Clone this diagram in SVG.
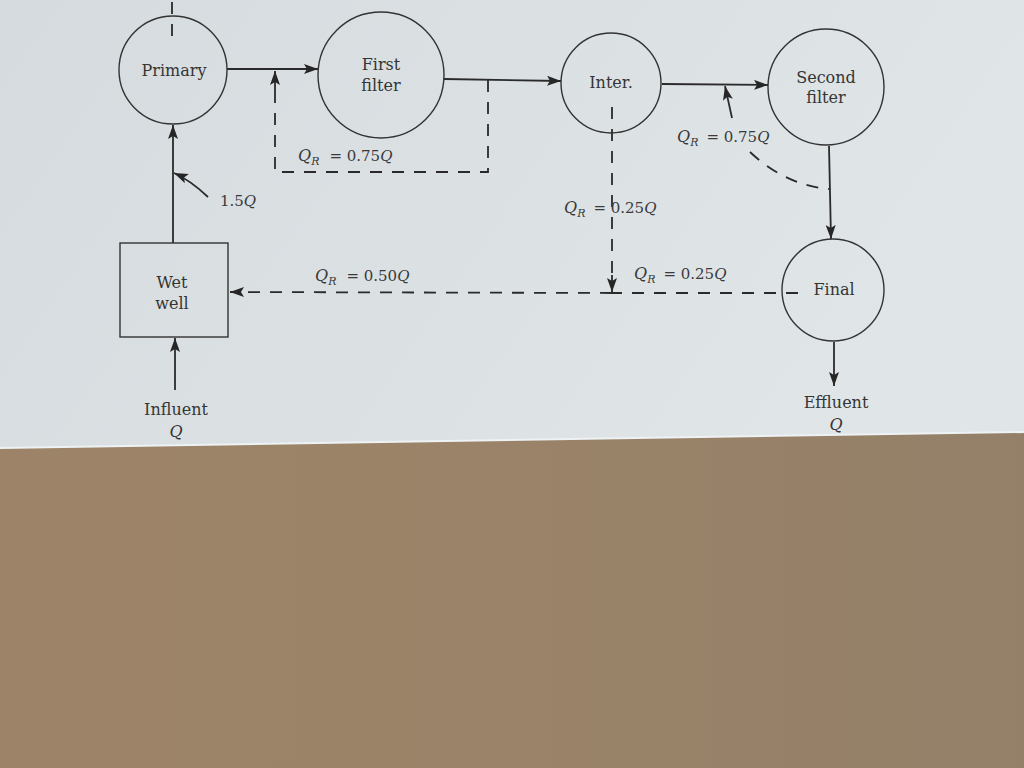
<svg xmlns="http://www.w3.org/2000/svg" width="1024" height="768" viewBox="0 0 1024 768">
<defs>
<linearGradient id="page" x1="0" y1="0" x2="1" y2="0.3">
<stop offset="0" stop-color="#d5dbde"/>
<stop offset="0.6" stop-color="#dce2e4"/>
<stop offset="1" stop-color="#e0e5e7"/>
</linearGradient>
<linearGradient id="board" x1="0" y1="0" x2="1" y2="0">
<stop offset="0" stop-color="#9d8468"/>
<stop offset="0.5" stop-color="#9a8368"/>
<stop offset="1" stop-color="#948069"/>
</linearGradient>
<marker id="ah" viewBox="0 0 14 10" refX="14" refY="5" markerWidth="14" markerHeight="10" markerUnits="userSpaceOnUse" orient="auto">
<path d="M0,0 L14,5 L0,10 L3,5 Z" fill="#262626"/>
</marker>
<style>
.node{fill:none;stroke:#333;stroke-width:1.4}
.ln{fill:none;stroke:#2a2a2a;stroke-width:1.8}
.dash{fill:none;stroke:#2a2a2a;stroke-width:1.8;stroke-dasharray:12 10}
.t{font-family:"DejaVu Serif","Liberation Serif",serif;font-size:16px;fill:#353535;text-anchor:middle}
.eq{font-family:"DejaVu Serif","Liberation Serif",serif;font-size:15px;fill:#3a3a3a}
.i{font-style:italic}
</style>
</defs>
<rect x="0" y="0" width="1024" height="768" fill="url(#board)"/>
<polygon points="0,0 1024,0 1024,432 0,448" fill="url(#page)"/>
<line x1="0" y1="448" x2="1024" y2="432" stroke="#eef2f4" stroke-width="2"/>

<g id="connectors">
<line class="dash" x1="172" y1="2" x2="172" y2="40"/>
<line class="ln" x1="227" y1="69" x2="318" y2="69" marker-end="url(#ah)"/>
<line class="ln" x1="444" y1="79" x2="561" y2="81" marker-end="url(#ah)"/>
<polyline class="dash" points="488,80 488,172 275,172 275,100"/>
<line class="ln" x1="275" y1="100" x2="275" y2="71" marker-end="url(#ah)"/>
<line class="ln" x1="662" y1="84" x2="768" y2="85" marker-end="url(#ah)"/>
<path class="ln" d="M732,118 Q728,100 725,86" marker-end="url(#ah)"/>
<path class="dash" d="M750,152 Q785,185 829,189"/>
<line class="ln" x1="829" y1="146" x2="831" y2="239" marker-end="url(#ah)"/>
<line class="ln" x1="834" y1="342" x2="834" y2="386" marker-end="url(#ah)"/>
<line class="dash" x1="612" y1="107" x2="612" y2="275"/>
<line class="ln" x1="612" y1="275" x2="612" y2="292" marker-end="url(#ah)"/>
<path class="dash" d="M798,293 L612,293"/>
<path class="dash" d="M612,293 L230,292" marker-end="url(#ah)"/>
<line class="ln" x1="173" y1="243" x2="173" y2="125" marker-end="url(#ah)"/>
<path class="ln" d="M208,197 Q190,180 174,173" marker-end="url(#ah)"/>
<line class="ln" x1="175" y1="390" x2="175" y2="338" marker-end="url(#ah)"/>

<text class="eq" x="298" y="161"><tspan class="i" font-size="16">Q</tspan><tspan class="i" font-size="11" dy="4">R</tspan><tspan dy="-4" dx="10">= 0.75</tspan><tspan class="i">Q</tspan></text>
<text class="eq" x="677" y="142"><tspan class="i" font-size="16">Q</tspan><tspan class="i" font-size="11" dy="4">R</tspan><tspan dy="-4" dx="8">= 0.75</tspan><tspan class="i">Q</tspan></text>
<text class="eq" x="564" y="213"><tspan class="i" font-size="16">Q</tspan><tspan class="i" font-size="11" dy="4">R</tspan><tspan dy="-4" dx="8">= 0.25</tspan><tspan class="i">Q</tspan></text>
<text class="eq" x="634" y="279"><tspan class="i" font-size="16">Q</tspan><tspan class="i" font-size="11" dy="4">R</tspan><tspan dy="-4" dx="8">= 0.25</tspan><tspan class="i">Q</tspan></text>
<text class="eq" x="315" y="281"><tspan class="i" font-size="16">Q</tspan><tspan class="i" font-size="11" dy="4">R</tspan><tspan dy="-4" dx="10">= 0.50</tspan><tspan class="i">Q</tspan></text>
<text class="eq" x="220" y="206">1.5<tspan class="i">Q</tspan></text>
</g>

<g id="primary">
<circle class="node" cx="173" cy="70" r="54"/>
<text class="t" x="174" y="76">Primary</text>
</g>
<g id="first-filter">
<circle class="node" cx="381" cy="75" r="63"/>
<text class="t" x="381" y="70">First</text>
<text class="t" x="381" y="91">filter</text>
</g>
<g id="inter">
<circle class="node" cx="611" cy="83" r="50"/>
<text class="t" x="611" y="88">Inter.</text>
</g>
<g id="second-filter">
<circle class="node" cx="826" cy="87" r="58"/>
<text class="t" x="826" y="83">Second</text>
<text class="t" x="826" y="103">filter</text>
</g>
<g id="final">
<circle class="node" cx="833" cy="290" r="51"/>
<text class="t" x="834" y="295">Final</text>
</g>
<g id="wet-well">
<rect class="node" x="120" y="243" width="108" height="94"/>
<text class="t" x="172" y="288">Wet</text>
<text class="t" x="172" y="309">well</text>
</g>
<g id="influent">
<text class="t" x="176" y="415">Influent</text>
<text class="t i" x="176" y="437">Q</text>
</g>
<g id="effluent">
<text class="t" x="836" y="408">Effluent</text>
<text class="t i" x="836" y="430">Q</text>
</g>
</svg>
